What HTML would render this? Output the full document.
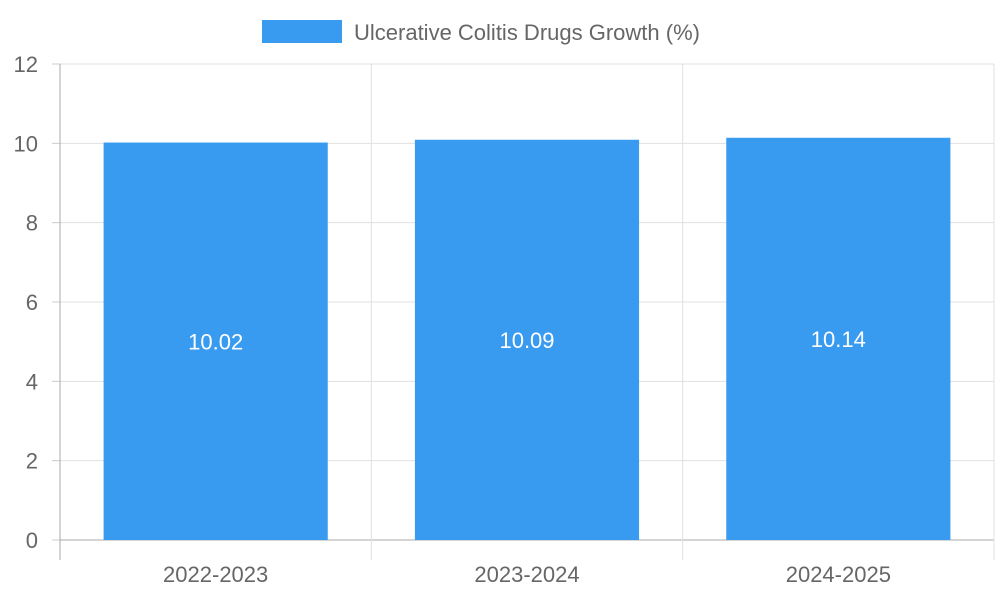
<!DOCTYPE html>
<html><head><meta charset="utf-8"><style>
body{margin:0;background:#fff;}
svg{display:block;font-family:"Liberation Sans",sans-serif;}
</style></head><body>
<svg id="chart" width="1000" height="600">
<g>
<rect x="262" y="20" width="80" height="23" fill="#389bf0"/>
<text x="354" y="40" font-size="22" fill="#666">Ulcerative Colitis Drugs Growth (%)</text>
</g>
<g id="grid"></g>
<g id="bars"></g>
<g id="axes"></g>
</svg>
<script>
const categories = ["2022-2023", "2023-2024", "2024-2025"];
const values = [10.02, 10.09, 10.14];
const yTicks = [0, 2, 4, 6, 8, 10, 12];
const NS = "http://www.w3.org/2000/svg";
const L = 60, R = 994, T = 64, B = 540, yMax = 12;
const y = v => B - (v / yMax) * (B - T);
const bw = (R - L) / categories.length;
const x = i => L + i * bw;
function mk(tag, attrs, parent) {
  const e = document.createElementNS(NS, tag);
  for (const k in attrs) e.setAttribute(k, attrs[k]);
  parent.appendChild(e);
  return e;
}
const grid = document.getElementById("grid");
const bars = document.getElementById("bars");
const axes = document.getElementById("axes");
yTicks.forEach(t => {
  const ln = mk("line", {x1: L, x2: R, y1: y(t), y2: y(t), stroke: t === 0 ? "#aaa" : "#e0e0e0", "stroke-width": 1}, grid);
  
  
  const tk = mk("line", {x1: L - 8, x2: L, y1: y(t), y2: y(t), stroke: "#ccc"}, grid);
  
  
  const lb = mk("text", {x: 38, y: y(t) + 8, "text-anchor": "end", "font-size": 22, fill: "#666"}, axes);
  lb.textContent = t;
  
  
});
for (let i = 0; i <= categories.length; i++) {
  const ln = mk("line", {x1: x(i), x2: x(i), y1: T, y2: B + 20, stroke: i === 0 ? "#aaa" : "#e0e0e0"}, grid);
  
  
}
categories.forEach((c, i) => {
  const w = bw * 0.72;
  const bx = x(i) + (bw - w) / 2;
  const r = mk("rect", {x: bx, y: y(values[i]), width: w, height: B - y(values[i]), fill: "#389bf0"}, bars);
  
  
  const vl = mk("text", {x: bx + w / 2, y: (y(values[i]) + B) / 2 + 8, "text-anchor": "middle", "font-size": 22, fill: "#fff"}, bars);
  vl.textContent = values[i].toFixed(2);
  
  
  const xl = mk("text", {x: x(i) + bw / 2, y: 582, "text-anchor": "middle", "font-size": 22, fill: "#666"}, axes);
  xl.textContent = c;
  
  
});
</script>
</body></html>
